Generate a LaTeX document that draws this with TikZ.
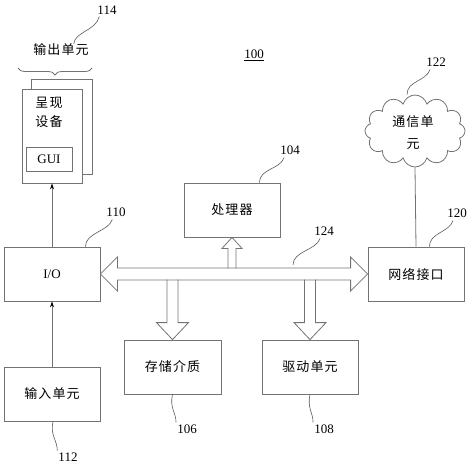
\documentclass[tikz,border=0pt]{standalone}
\usepackage{fontspec}
\setmainfont{Liberation Serif}
\newfontfamily\cjk[LetterSpace=8]{Noto Sans CJK SC}
\usetikzlibrary{shapes.symbols,decorations.pathreplacing,calc,arrows.meta}
\begin{document}
\begin{tikzpicture}[x=1pt,y=-1pt,
  ln/.style={draw=black!55,line width=0.8pt},
  box/.style={ln,rectangle,inner sep=0pt,minimum width=96pt,minimum height=54pt,font=\cjk\fontsize{13}{19}\selectfont},
  num/.style={inner sep=0pt,font=\fontsize{13}{15}\selectfont},
  lead/.style={draw=black!65,line width=0.6pt},
  sarr/.style={draw=black!55,line width=0.8pt,-{Stealth[length=6pt,width=4pt,black]}},
  blk/.style={ln,line join=miter}
]
\useasboundingbox (0,0) rectangle (474,466);

% boxes
\node[box] (io) at (52,274) {\rmfamily I/O};
\node[box] (net) at (416,274) {网络接口};
\node[box] (proc) at (232,210) {处理器};
\node[box,minimum width=97pt] (stor) at (172.5,367) {存储介质};
\node[box] (drive) at (310,367) {驱动单元};
\node[box] (input) at (52,394) {输入单元};

% presentation device
\node[ln,rectangle,inner sep=0pt,minimum width=61pt,minimum height=95pt] (back) at (61.5,126.5) {};
\node[ln,fill=white,rectangle,inner sep=0pt,minimum width=60pt,minimum height=94pt] (front) at (52,136) {};
\node[ln,rectangle,inner sep=0pt,minimum width=46pt,minimum height=24pt,font=\fontsize{13}{15}\selectfont] (gui) at (49,159) {GUI};
\node[inner sep=0pt,align=center,font=\cjk\fontsize{13}{19}\selectfont] (pres) at (49,112.5) {呈现\\设备};

% output unit brace + label
\node[inner sep=0pt,font=\cjk\fontsize{13}{15}\selectfont] (outl) at (61,50) {输出单元};
\draw[ln,decorate,decoration={brace,amplitude=7pt,mirror}] (18,68) -- (92,68);

% cloud
\node[ln,cloud,cloud puffs=12,aspect=1.4,inner sep=0pt,minimum width=100pt,minimum height=72pt] (cloud) at (415,131) {};
\node[inner sep=0pt,align=center,font=\cjk\fontsize{13}{22}\selectfont] (cloudt) at (413,133) {通信单\\元};

% labels
\node[num] (l100) at (254,55) {\underline{100}};
\node[num] (l114) at (107,10) {114};
\node[num] (l122) at (436,62) {122};
\node[num] (l104) at (290,150) {104};
\node[num] (l110) at (116,212) {110};
\node[num] (l120) at (457,213) {120};
\node[num] (l124) at (324,231) {124};
\node[num] (l106) at (187,429) {106};
\node[num] (l108) at (324,429) {108};
\node[num] (l112) at (68,457) {112};

% small arrows and lines
\draw[sarr] (io.north) -- (front.south);
\draw[sarr] (input.north) -- (io.south);
\draw[ln] (cloud.south) -- (net.north);

% bus double arrow
\draw[blk] (io.east) -- ++(17,-17) -- ++(0,11) -- ($(net.west)+(-17,-6)$) -- ++(0,-11) -- (net.west)
  -- ++(-17,17) -- ++(0,-11) -- ($(io.east)+(17,6)$) -- ++(0,11) -- cycle;
% processor up arrow
\draw[blk] ($(proc.south)+(-4,31)$) -- ++(0,-20) -- ++(-6,0) -- (proc.south) -- ++(10,11) -- ++(-6,0) -- ++(0,20);
% storage down arrow
\draw[blk] ($(stor.north)+(-5.5,-60)$) -- ++(0,43) -- ++(-10.5,0) -- (stor.north) -- ++(16,-17) -- ++(-10.5,0) -- ++(0,-43);
% drive down arrow
\draw[blk] ($(drive.north)+(-5.5,-60)$) -- ++(0,43) -- ++(-10.5,0) -- (drive.north) -- ++(16,-17) -- ++(-10.5,0) -- ++(0,-43);

% leaders
\draw[lead] ($(outl.north east)+(-15,0)$) .. controls +(1,-12) and +(-3,14) .. ($(l114.south west)+(2,2)$);
\draw[lead] ($(io.north east)+(-15,0)$) .. controls +(0,-14) and +(-4,12) .. ($(l110.south west)+(6,3)$);
\draw[lead] ($(proc.north east)+(-21,0)$) .. controls +(0,-14) and +(-4,12) .. ($(l104.south west)+(4,3)$);
\draw[lead] (293,265) .. controls +(0,-14) and +(-4,12) .. ($(l124.south west)+(6,3)$);
\draw[lead] ($(net.north east)+(-35,0)$) .. controls +(0,-14) and +(-4,12) .. ($(l120.south west)+(6,3)$);
\draw[lead] ($(cloud.north)+(-8,0)$) .. controls +(0,-14) and +(-4,12) .. ($(l122.south west)+(4,3)$);
\draw[lead] (stor.south) .. controls +(-3,14) and +(0,-10) .. ($(l106.north west)+(-1,-2)$);
\draw[lead] (drive.south) .. controls +(-3,14) and +(0,-10) .. ($(l108.north west)+(-1,-2)$);
\draw[lead] ($(input.south)+(1,0)$) .. controls +(-3,14) and +(0,-10) .. ($(l112.north west)+(-1,-2)$);
\end{tikzpicture}
\end{document}
